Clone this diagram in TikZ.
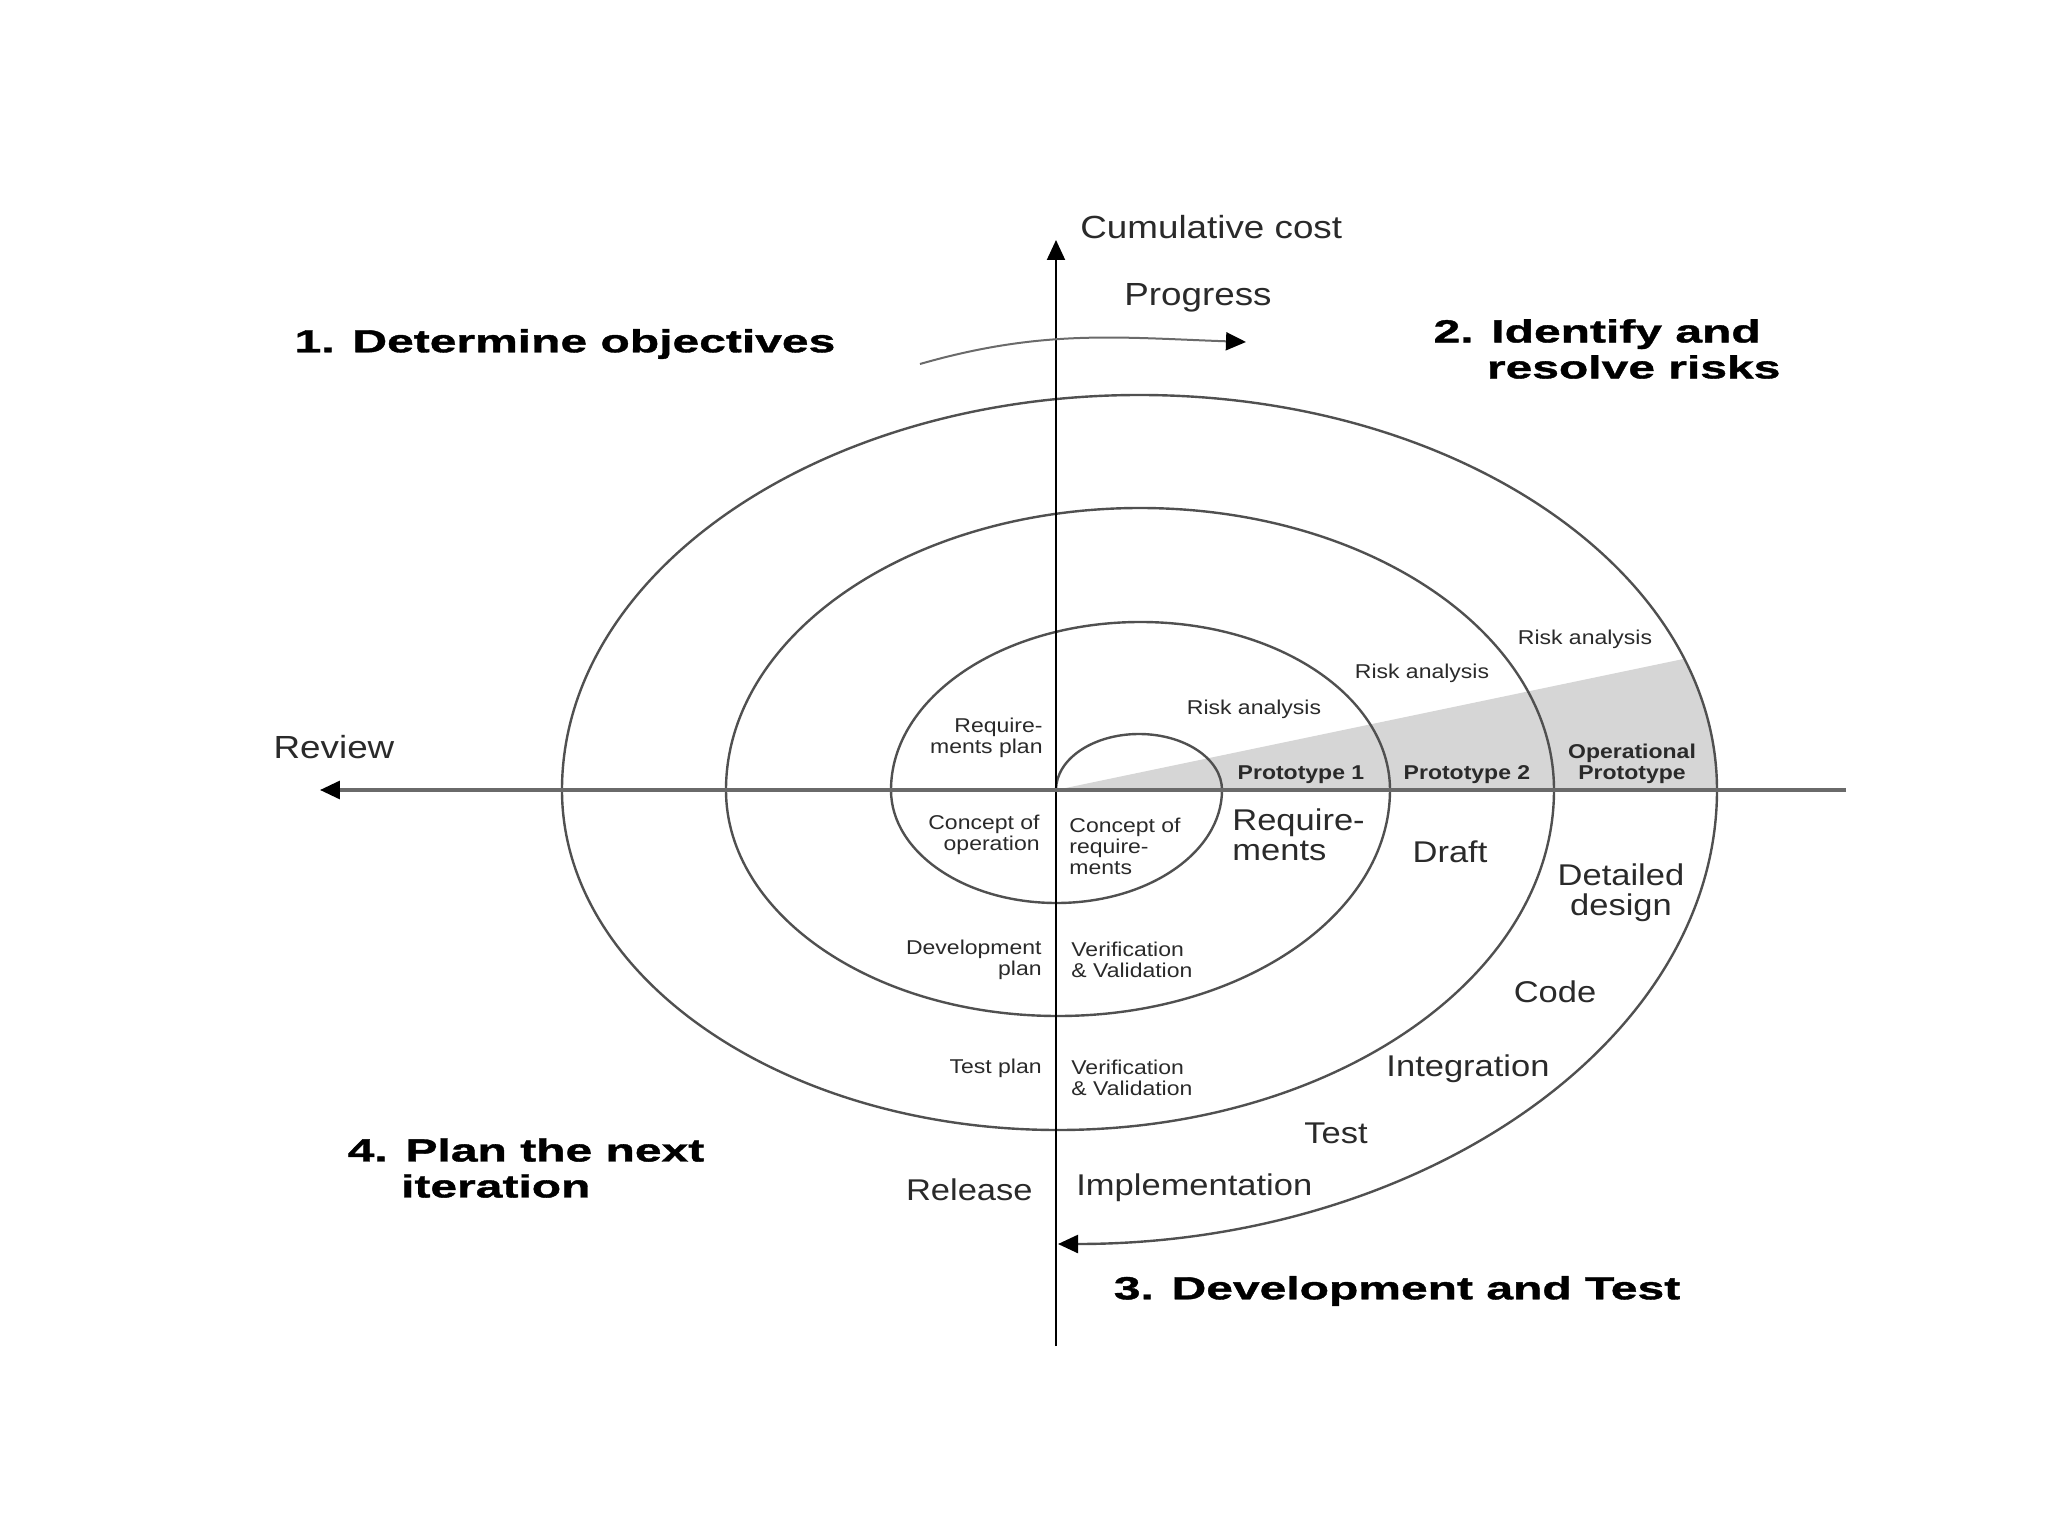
\documentclass[tikz,border=0pt]{standalone}
\usepackage{fontspec}
\setmainfont{Liberation Sans}[FakeStretch=1.15]
\newfontfamily\headfont{Liberation Sans}[FakeStretch=1.5,FakeBold=1.2]
\usetikzlibrary{arrows.meta}
\definecolor{riskgray}{HTML}{D6D6D6}
\definecolor{ink}{HTML}{2A2A2A}
\definecolor{curve}{HTML}{505050}
\definecolor{axisgray}{HTML}{6A6A6A}

\begin{document}
\begin{tikzpicture}[x=0.5pt,y=0.5pt,
    arrowtip/.style={-{Triangle[length=10pt,width=9pt,black]}},
    headtext/.style={font=\headfont\bfseries\fontsize{16}{18}\selectfont,text=black,inner sep=0pt},
    bigtext/.style={font=\fontsize{16}{18}\selectfont,text=ink,inner sep=0pt},
    midtext/.style={font=\fontsize{15}{15}\selectfont,text=ink,inner sep=0pt},
    smalltext/.style={font=\fontsize{10}{10.5}\selectfont,text=ink,inner sep=0pt},
    prototext/.style={font=\bfseries\fontsize{10}{10.5}\selectfont,text=ink,inner sep=0pt},
    spiral/.style={draw=curve,line width=1.2pt}]
      \useasboundingbox (-1056,-746) rectangle (992,790);

      \coordinate (top) at (0,550);
      \coordinate (bottom) at (0,-556);
      \coordinate (left) at (-736,0);
      \coordinate (right) at (790,0);
      \coordinate (pstart) at (-136,426);
      \coordinate (pend) at (190,448);

      \fill[riskgray] (0,0) -- (628.3,131.2) arc[start angle=19.4,end angle=0,x radius=577.5,y radius=395] -- cycle;

      \draw[spiral,arrowtip] (0,0)
        arc[start angle=180,end angle=0,x radius=83,y radius=56]
        arc[start angle=0,end angle=-180,x radius=165.5,y radius=113]
        arc[start angle=180,end angle=0,x radius=249.5,y radius=168]
        arc[start angle=0,end angle=-180,x radius=332,y radius=226]
        arc[start angle=180,end angle=0,x radius=414,y radius=282]
        arc[start angle=0,end angle=-180,x radius=496,y radius=340]
        arc[start angle=180,end angle=0,x radius=577.5,y radius=395]
        arc[start angle=0,end angle=-90,x radius=659,y radius=454];

      \draw[arrowtip,line width=1pt] (bottom) -- (top);
      \draw[arrowtip,line width=1.6pt,draw=axisgray] (right) -- (left);
      \draw[arrowtip,line width=1pt,draw=axisgray] (pstart) to[out=16,in=178] (pend);

      \node[bigtext,anchor=west] (cost) at (24,563) {Cumulative cost};
      \node[bigtext] (progress) at (142,492) {Progress};
      \node[bigtext] (review) at (-722,43) {Review};
      \node[headtext] (objectives) at (-491,446) {1. Determine objectives};
      \node[headtext,align=left] (risks) at (551,441) {2. Identify and\\\phantom{2.\ }resolve risks};
      \node[headtext] (devtest) at (341,-501) {3. Development and Test};
      \node[headtext,align=left] (nextplan) at (-530,-378) {4. Plan the next\\\phantom{4.\ }iteration};

      \node[smalltext] (risk1) at (198,81) {Risk analysis};
      \node[smalltext] (risk2) at (366,117) {Risk analysis};
      \node[smalltext] (risk3) at (529,151) {Risk analysis};
      \node[prototext] (proto1) at (245,15) {Prototype 1};
      \node[prototext] (proto2) at (411,15) {Prototype 2};
      \node[prototext,align=center] (proto3) at (576,26) {Operational\\Prototype};

      \node[smalltext,align=right,anchor=east] (reqplan) at (-13,52) {Require-\\ments plan};
      \node[smalltext,align=right,anchor=east] (conop) at (-16,-45) {Concept of\\operation};
      \node[smalltext,align=left,anchor=west] (conreq) at (13,-56) {Concept of\\require-\\ments};
      \node[midtext,align=left,anchor=west] (reqs) at (176,-45) {Require-\\ments};
      \node[midtext] (draft) at (394,-62) {Draft};
      \node[midtext,align=center] (design) at (565,-103) {Detailed\\design};
      \node[midtext] (code) at (499,-202) {Code};
      \node[midtext] (integ) at (412,-279) {Integration};
      \node[midtext] (test) at (280,-343) {Test};
      \node[midtext,anchor=west] (impl) at (20,-398) {Implementation};
      \node[midtext,anchor=east] (release) at (-23,-400) {Release};

      \node[smalltext,align=right,anchor=east] (devplan) at (-14,-170) {Development\\plan};
      \node[smalltext,align=left,anchor=west] (vv1) at (15,-170) {Verification\\\& Validation};
      \node[smalltext,anchor=east] (testplan) at (-14,-278) {Test plan};
      \node[smalltext,align=left,anchor=west] (vv2) at (15,-288) {Verification\\\& Validation};
\end{tikzpicture}
\end{document}
